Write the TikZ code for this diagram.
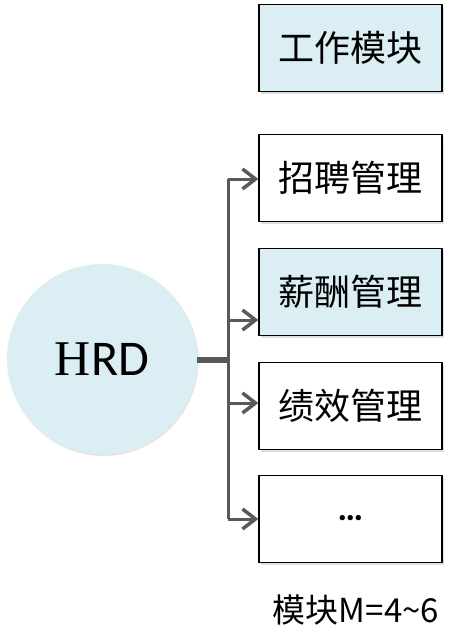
\documentclass[tikz,border=0pt]{standalone}
\usepackage{fontspec}
\setmainfont{Liberation Serif}
\newfontfamily\cjk{Noto Sans CJK SC}
\newfontfamily\cali{Carlito}
\usetikzlibrary{arrows.meta,shadows}
\definecolor{paleblue}{HTML}{DAEEF3}
\definecolor{linegray}{HTML}{595959}
\begin{document}
\begin{tikzpicture}[x=1pt,y=-1pt,
  modbox/.style={draw=black,line width=1.3pt,minimum width=183pt,minimum height=87pt,
    inner sep=0pt,font=\cjk\fontsize{36}{42}\selectfont,
    drop shadow={opacity=0.25,shadow xshift=2pt,shadow yshift=-2.5pt}},
  bluebox/.style={modbox,fill=paleblue},
  whitebox/.style={modbox,fill=white},
  arr/.style={draw=linegray,line width=3pt,-{Straight Barb[length=13pt,width=20pt,line width=3.5pt]}},
  trunk/.style={draw=linegray,line width=3pt},
  stem/.style={draw=linegray,line width=5.5pt}]
\useasboundingbox (0,0) rectangle (456,637);
\node[bluebox] (b1) at (350.5,48) {工作模块};
\node[whitebox] (b2) at (350.5,178) {招聘管理};
\node[bluebox] (b3) at (350.5,292) {薪酬管理};
\node[whitebox] (b4) at (350.5,406) {绩效管理};
\node[whitebox,font=\bfseries\cali\fontsize{36}{40}\selectfont] (b5) at (350.5,519) {\raisebox{2pt}{\ldots}};
\node[circle,fill=paleblue,minimum size=190pt,inner sep=0pt,
  drop shadow={opacity=0.2,shadow xshift=1.5pt,shadow yshift=-2pt}] (hrd) at (102,359)
  {\fontsize{50}{56}\selectfont H{\cali RD}};
\coordinate (j0) at (228,360);
\coordinate (j1) at (228,179);
\coordinate (j2) at (228,320);
\coordinate (j3) at (228,403);
\coordinate (j4) at (228,519);
\draw[stem] (hrd.east |- j0) -- (j0);
\draw[trunk] (j1) -- (j4);
\draw[arr] (j1) -- (b2.west |- j1);
\draw[arr] (j2) -- (b3.west |- j2);
\draw[arr] (j3) -- (b4.west |- j3);
\draw[arr] (j4) -- (b5.west |- j4);
\node[font=\cjk\fontsize{33}{38}\selectfont,inner sep=0pt] (cap) at (356,610) {模块M=4\textasciitilde6};
\end{tikzpicture}
\end{document}
